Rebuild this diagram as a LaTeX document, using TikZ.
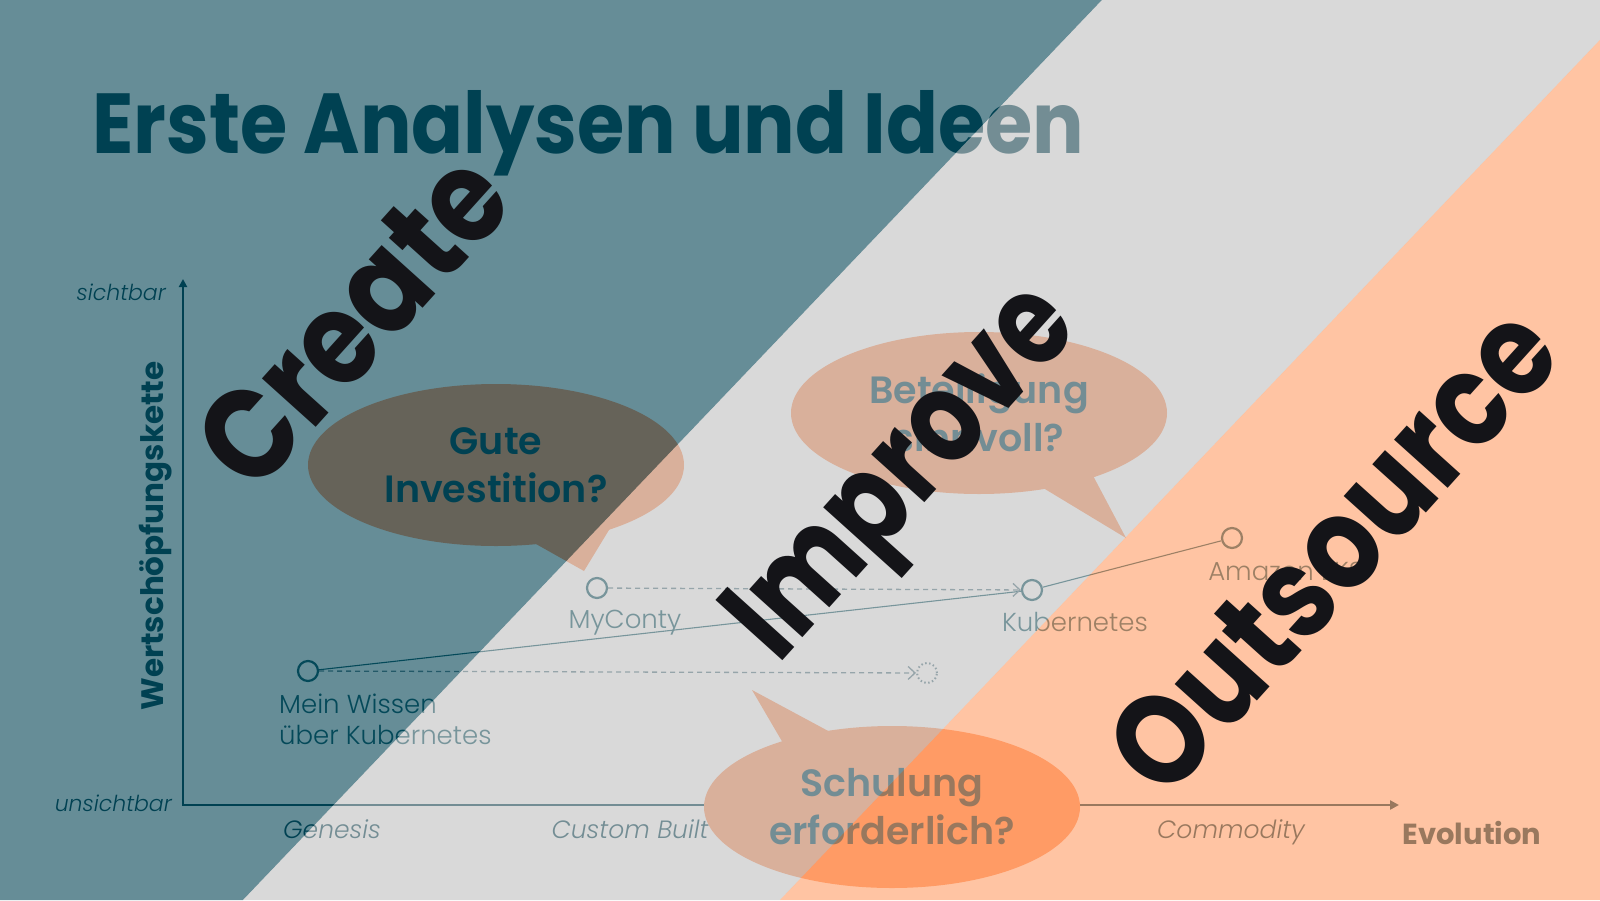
\documentclass[tikz,border=0pt]{standalone}
\usepackage{fontspec}
\setmainfont{Poppins}[UprightFont=* Light, ItalicFont=* Light Italic, BoldFont=* SemiBold, BoldItalicFont=* SemiBold Italic]
\newfontfamily\popbold{Poppins}[UprightFont=* Bold]
\newfontfamily\popsemi{Poppins}[UprightFont=* SemiBold]
\usetikzlibrary{arrows.meta,shapes.geometric}
\definecolor{teal0}{RGB}{0,65,82}
\definecolor{labcol}{RGB}{12,85,100}
\definecolor{dashcol}{RGB}{88,125,138}
\definecolor{bubcol}{RGB}{255,152,100}
\definecolor{ovgreycol}{RGB}{192,192,192}
\definecolor{ovsalmoncol}{RGB}{255,157,102}
\definecolor{wordcol}{RGB}{20,20,24}
\begin{document}
\begin{tikzpicture}[x=1pt,y=-1pt,
  axisline/.style={draw=teal0, line width=2.5pt},
  comp/.style={circle, draw=labcol, line width=2.2pt, minimum size=20pt, inner sep=0pt},
  linkline/.style={draw=labcol, line width=1.1pt},
  moveline/.style={draw=dashcol, line width=1.3pt, dash pattern=on 5pt off 4pt, -{Straight Barb[length=7pt,width=13pt]}},
  lab/.style={text=labcol, font=\fontsize{26}{31}\selectfont, inner sep=0pt},
  axlab/.style={text=teal0, font=\itshape\fontsize{22}{22}\selectfont, inner sep=0pt},
  evlab/.style={text=teal0, font=\itshape\fontsize{25}{25}\selectfont, inner sep=0pt},
  bubble/.style={ellipse, fill=bubcol, minimum width=376pt, minimum height=162pt, inner sep=0pt, align=center, text=teal0, font=\popsemi\fontsize{38}{48}\selectfont},
  bubtail/.style={fill=bubcol},
  ovteal/.style={fill=teal0, fill opacity=0.6},
  ovgrey/.style={fill=ovgreycol, fill opacity=0.6},
  ovsalmon/.style={fill=ovsalmoncol, fill opacity=0.6},
  bigword/.style={text=wordcol, font=\popbold, inner sep=0pt, anchor=base}
]
\useasboundingbox (0,0) rectangle (1600,900);
\begin{scope}
\clip (0,0) rectangle (1600,900);
\fill[white] (0,0) rectangle (1600,900);

% title
\node[anchor=base west, inner sep=0pt, text=teal0] (title) at (92,153) {\resizebox{992pt}{63pt}{\popbold Erste Analysen und Ideen}};

% axes
\coordinate (ytop) at (183,279);
\coordinate (origin) at (183,805);
\coordinate (xend) at (1399,805);
\draw[axisline, {Triangle[length=8pt,width=8pt]}-{Triangle[length=9pt,width=9pt]}] (ytop) -- (origin) -- (xend);
\node[axlab, anchor=east] (sicht) at (166,292) {sichtbar};
\node[axlab, anchor=east] (unsicht) at (172,803) {unsichtbar};
\node[rotate=90, text=teal0, font=\popbold\fontsize{31}{31}\selectfont, inner sep=0pt] (wsk) at (156,536) {Wertschöpfungskette};
\node[evlab] (gen) at (332,829) {Genesis};
\node[evlab] (cust) at (630,829) {Custom Built};
\node[evlab] (comm) at (1231,832) {Commodity};
\node[text=teal0, font=\popbold\fontsize{29}{29}\selectfont, inner sep=0pt] (evo) at (1472,833) {Evolution};

% components
\node[comp] (mw) at (308,671) {};
\node[comp] (myc) at (597,588) {};
\node[comp] (kub) at (1032,590) {};
\node[comp] (eks) at (1232,538) {};
\node[comp, draw=dashcol, line width=2pt, dash pattern=on 1.5pt off 2.5pt] (fut) at (927,673) {};

\draw[linkline] (mw) -- (kub);
\draw[linkline] (kub) -- (eks);
\draw[moveline] (mw) -- (fut);
\draw[moveline] (myc) -- (kub);

\node[lab, anchor=north west, align=left] (mwl) at (279,694) {Mein Wissen\\über Kubernetes};
\node[lab, anchor=base] (mycl) at (625,628) {MyConty};
\node[lab, anchor=base] (kubl) at (1075,631) {Kubernetes};
\node[lab, anchor=base] (eksl) at (1286,580) {Amazon EKS};

% bubbles
\coordinate (b1c) at (496,465);
\coordinate (b2c) at (979,413);
\coordinate (b3c) at (892,807);
\fill[bubtail] ([shift={(24,70)}]b1c) -- ([shift={(88,106)}]b1c) -- ([shift={(116,60)}]b1c) -- cycle;
\fill[bubtail] ([shift={(51,67)}]b2c) -- ([shift={(147,125)}]b2c) -- ([shift={(111,57)}]b2c) -- cycle;
\fill[bubtail] ([shift={(-102,-52)}]b3c) -- ([shift={(-140,-117)}]b3c) -- ([shift={(-47,-67)}]b3c) -- cycle;
\node[bubble] (b1) at (b1c) {Gute\\Investition?};
\node[bubble] (b2) at (b2c) {Beteiligung\\sinnvoll?};
\node[bubble] (b3) at (b3c) {Schulung\\erforderlich?};

% overlays
\fill[ovteal] (0,0) -- (1102,0) -- (243,900) -- (0,900) -- cycle;
\fill[ovgrey] (1102,0) -- (1638,0) -- (780,900) -- (243,900) -- cycle;
\fill[ovsalmon] (1638,0) -- (1700,0) -- (1700,900) -- (780,900) -- cycle;

% big words
\node[bigword, rotate=48] (create) at (386,350) {\resizebox{394pt}{92pt}{Create}};
\node[bigword, rotate=48] (improve) at (930,497) {\resizebox{453pt}{90pt}{Improve}};
\node[bigword, rotate=48] (outsource) at (1366,580) {\resizebox{598pt}{92pt}{Outsource}};
\end{scope}
\end{tikzpicture}
\end{document}
